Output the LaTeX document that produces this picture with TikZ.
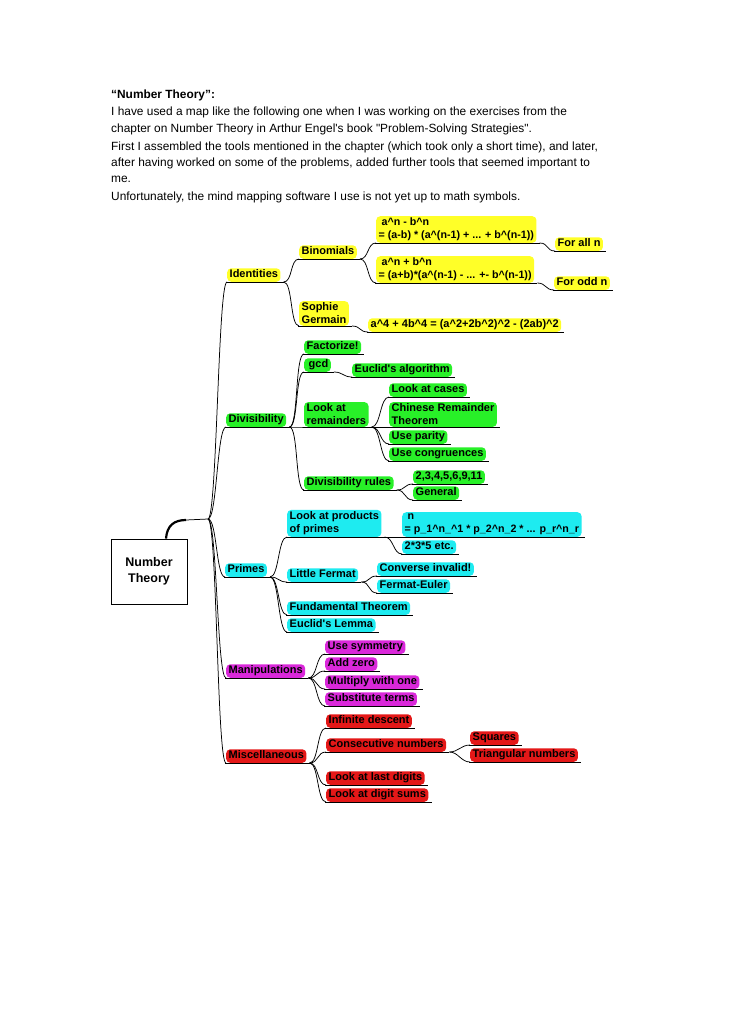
\documentclass[tikz,border=0pt]{standalone}
\usepackage{fontspec}
\setmainfont{Liberation Sans}
\usetikzlibrary{calc}
\definecolor{cyel}{RGB}{255,255,40}
\definecolor{cgrn}{RGB}{40,240,40}
\definecolor{ccya}{RGB}{30,235,240}
\definecolor{cmag}{RGB}{218,40,218}
\definecolor{cred}{RGB}{228,24,24}
\tikzset{
  mm/.style={anchor=south west, rounded corners=4pt, inner xsep=2.5pt, inner ysep=1.5pt,
    font=\bfseries\fontsize{11}{13}\selectfont, text height=8pt, text depth=2.5pt},
  mmtwo/.style={anchor=south west, rounded corners=4pt, inner xsep=2.5pt, inner ysep=1.8pt,
    font=\bfseries\fontsize{11}{13}\selectfont, align=left},
  formula/.style={font=\bfseries\fontsize{10.7}{13}\selectfont},
  yel/.style={fill=cyel}, grn/.style={fill=cgrn}, cya/.style={fill=ccya},
  mag/.style={fill=cmag}, rd/.style={fill=cred},
  conn/.style={line width=0.75pt},
  hdr/.style={anchor=base west, inner sep=0pt, font=\fontsize{11.9}{14}\selectfont},
}
\newcommand\ul[1]{\draw[conn] ([xshift=-1pt]#1.south west) -- ([xshift=3pt]#1.south east);}
\newcommand\cn[2]{\draw[conn] ([xshift=3pt]#1.south east) .. controls +(9,0) and +(-9,0) .. (#2.south west);}
\newcommand\rc[1]{\draw[conn] (root) .. controls +(9,0) and +(-9,0) .. (#1.south west);}
\newcommand\ca{\textasciicircum}
\newcommand\sq{\textquotesingle}
\begin{document}
\begin{tikzpicture}[x=1pt,y=-1pt]
\useasboundingbox[fill=white] (0,0) rectangle (728,1030);
% header
\node[hdr,font=\bfseries\fontsize{11.9}{14}\selectfont] (t0) at (111,99) {“Number Theory”:};
\node[hdr] (t1) at (111,116) {I have used a map like the following one when I was working on the exercises from the};
\node[hdr] (t2) at (111,132) {chapter on Number Theory in Arthur Engel\sq s book \textquotedbl Problem-Solving Strategies\textquotedbl.};
\node[hdr] (t3) at (111,150) {First I assembled the tools mentioned in the chapter (which took only a short time), and later,};
\node[hdr] (t4) at (111,166) {after having worked on some of the problems, added further tools that seemed important to};
\node[hdr] (t5) at (111,182) {me.};
\node[hdr] (t6) at (111,200) {Unfortunately, the mind mapping software I use is not yet up to math symbols.};

% root
\node[draw, line width=0.8pt, minimum width=76pt, minimum height=65pt, align=center,
  font=\bfseries\fontsize{12.5}{16}\selectfont] (nt) at (149,571.5) {Number\\Theory};
\coordinate (ntc) at ([xshift=17pt]nt.north);
\coordinate (root) at (208,519);
\coordinate (bend) at (186,520);
\draw[line width=2.2pt] (ntc) .. controls +(1,-13) and +(-12,0) .. (bend);
\draw[conn] (bend) -- (root);

% identities
\node[mm,yel] (ident) at (227,282) {Identities};
\node[mm,yel] (binom) at (299,259) {Binomials};
\node[mmtwo,yel,formula] (bina) at (376,243) {\hspace{3pt}a\ca n - b\ca n\\= (a-b) * (a\ca(n-1) + ... + b\ca(n-1))};
\node[mm,yel] (forall) at (555,251) {For all n};
\node[mmtwo,yel,formula] (binb) at (376,283) {\hspace{3pt}a\ca n + b\ca n\\= (a+b)*(a\ca(n-1) - ... +- b\ca(n-1))};
\node[mm,yel] (forodd) at (554,290) {For odd n};
\node[mmtwo,yel] (sophie) at (299,326) {Sophie\\Germain};
\node[mm,yel] (sg) at (368,332) {a\ca 4 + 4b\ca 4 = (a\ca 2+2b\ca 2)\ca 2 - (2ab)\ca 2};

% divisibility
\node[mm,grn] (divis) at (226,427) {Divisibility};
\node[mm,grn] (fact) at (304,354) {Factorize!};
\node[mm,grn] (gcd) at (304,372) {\hspace{2pt}gcd};
\node[mm,grn] (euclid) at (352,377) {Euclid\sq s algorithm};
\node[mmtwo,grn] (lar) at (304,427) {Look at\\remainders};
\node[mm,grn] (cases) at (389,397) {Look at cases};
\node[mmtwo,grn] (crt) at (389,427) {Chinese Remainder\\Theorem};
\node[mm,grn] (parity) at (389,444) {Use parity};
\node[mm,grn] (congr) at (389,461) {Use congruences};
\node[mm,grn] (drules) at (304,490) {Divisibility rules};
\node[mm,grn] (nums) at (413,484) {2,3,4,5,6,9,11};
\node[mm,grn] (gen) at (413,500) {General};

% primes
\node[mm,cya] (primes) at (225,577) {Primes};
\node[mmtwo,cya] (lap) at (287,537) {Look at products\\of primes};
\node[mmtwo,cya,formula] (nform) at (402,537) {\hspace{3pt}n\\= p\_1\ca n\_\ca 1 * p\_2\ca n\_2 * ... p\_r\ca n\_r};
\node[mm,cya] (ex) at (402,554) {2*3*5 etc.};
\node[mm,cya] (lf) at (287,582) {Little Fermat};
\node[mm,cya] (conv) at (377,576) {Converse invalid!};
\node[mm,cya] (fe) at (377,593) {Fermat-Euler};
\node[mm,cya] (fund) at (287,615) {Fundamental Theorem};
\node[mm,cya] (elem) at (287,632) {Euclid\sq s Lemma};

% manipulations
\node[mm,mag] (manip) at (226,678) {Manipulations};
\node[mm,mag] (sym) at (325,654) {Use symmetry};
\node[mm,mag] (zero) at (325,671) {Add zero};
\node[mm,mag] (mult) at (325,689) {Multiply with one};
\node[mm,mag] (subst) at (325,706) {Substitute terms};

% miscellaneous
\node[mm,rd] (misc) at (226,763) {Miscellaneous};
\node[mm,rd] (inf) at (326,728) {Infinite descent};
\node[mm,rd] (cons) at (326,752) {Consecutive numbers};
\node[mm,rd] (sqr) at (470,745) {Squares};
\node[mm,rd] (tri) at (470,762) {Triangular numbers};
\node[mm,rd] (last) at (326,785) {Look at last digits};
\node[mm,rd] (dsum) at (326,802) {Look at digit sums};

% underlines
\foreach \n in {ident,binom,bina,forall,binb,forodd,sophie,sg,divis,fact,gcd,euclid,lar,cases,crt,parity,congr,drules,nums,gen,primes,lap,nform,ex,lf,conv,fe,fund,elem,manip,sym,zero,mult,subst,misc,inf,cons,sqr,tri,last,dsum}{\ul{\n}}

% connectors
\rc{ident}\rc{divis}\rc{primes}\rc{manip}\rc{misc}
\cn{ident}{binom}\cn{ident}{sophie}
\cn{binom}{bina}\cn{binom}{binb}
\cn{bina}{forall}\cn{binb}{forodd}
\cn{sophie}{sg}
\cn{divis}{fact}\cn{divis}{gcd}\cn{divis}{lar}\cn{divis}{drules}
\cn{gcd}{euclid}
\cn{lar}{cases}\cn{lar}{crt}\cn{lar}{parity}\cn{lar}{congr}
\cn{drules}{nums}\cn{drules}{gen}
\cn{primes}{lap}\cn{primes}{lf}\cn{primes}{fund}\cn{primes}{elem}
\cn{lap}{nform}\cn{lap}{ex}
\cn{lf}{conv}\cn{lf}{fe}
\cn{manip}{sym}\cn{manip}{zero}\cn{manip}{mult}\cn{manip}{subst}
\cn{misc}{inf}\cn{misc}{cons}\cn{misc}{last}\cn{misc}{dsum}
\cn{cons}{sqr}\cn{cons}{tri}
\end{tikzpicture}
\end{document}
